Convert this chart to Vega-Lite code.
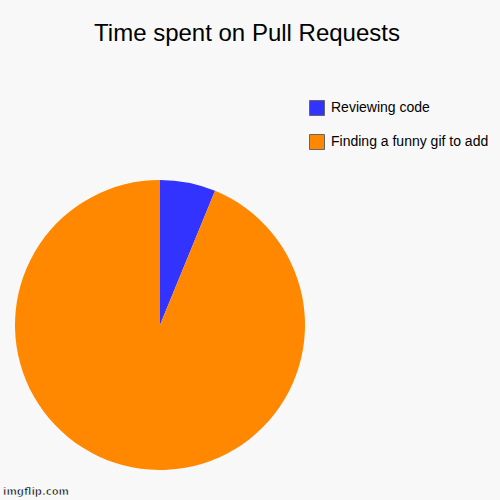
{
  "$schema": "https://vega.github.io/schema/vega-lite/v6.json",
  "autosize": {"type": "none"},
  "width": 290,
  "height": 290,
  "padding": {"left": 15, "top": 180, "right": 195, "bottom": 30},
  "background": "#f8f8f8",
  "title": {
    "text": "Time spent on Pull Requests",
    "anchor": "middle",
    "frame": "group",
    "dx": 87,
    "offset": 54,
    "font": "Liberation Sans",
    "fontSize": 24,
    "fontWeight": "normal",
    "color": "#000000"
  },
  "config": {
    "view": {"stroke": null},
    "legend": {
      "padding": 0,
      "labelFont": "Liberation Sans",
      "labelFontSize": 14,
      "labelColor": "#000000",
      "labelLimit": 300
    }
  },
  "layer": [
    {
      "data": {
        "values": [
          {"task": "Reviewing code", "share": 6.2},
          {"task": "Finding a funny gif to add", "share": 93.8}
        ]
      },
      "mark": {"type": "arc", "outerRadius": 145, "stroke": null},
      "encoding": {
        "theta": {"field": "share", "type": "quantitative", "stack": true},
        "order": {"field": "task", "sort": "descending"},
        "color": {
          "field": "task",
          "type": "nominal",
          "sort": ["Reviewing code", "Finding a funny gif to add"],
          "scale": {
            "domain": ["Reviewing code", "Finding a funny gif to add"],
            "range": ["#3333ff", "#ff8800"]
          },
          "legend": {
            "title": null,
            "orient": "none",
            "legendX": 294,
            "legendY": -80,
            "symbolType": "square",
            "symbolSize": 225,
            "symbolStrokeColor": "#666666",
            "symbolStrokeWidth": 1,
            "symbolOpacity": 1,
            "labelOffset": 6,
            "rowPadding": 14
          }
        }
      }
    },
    {
      "data": {"values": [{"mark": "imgflip.com"}]},
      "mark": {
        "type": "text",
        "align": "left",
        "baseline": "middle",
        "font": "DejaVu Sans",
        "fontSize": 10,
        "fontWeight": "bold",
        "fill": "#000000",
        "stroke": "#ffffff",
        "strokeWidth": 0.6,
        "x": -12,
        "y": 312
      },
      "encoding": {"text": {"field": "mark"}}
    }
  ]
}
